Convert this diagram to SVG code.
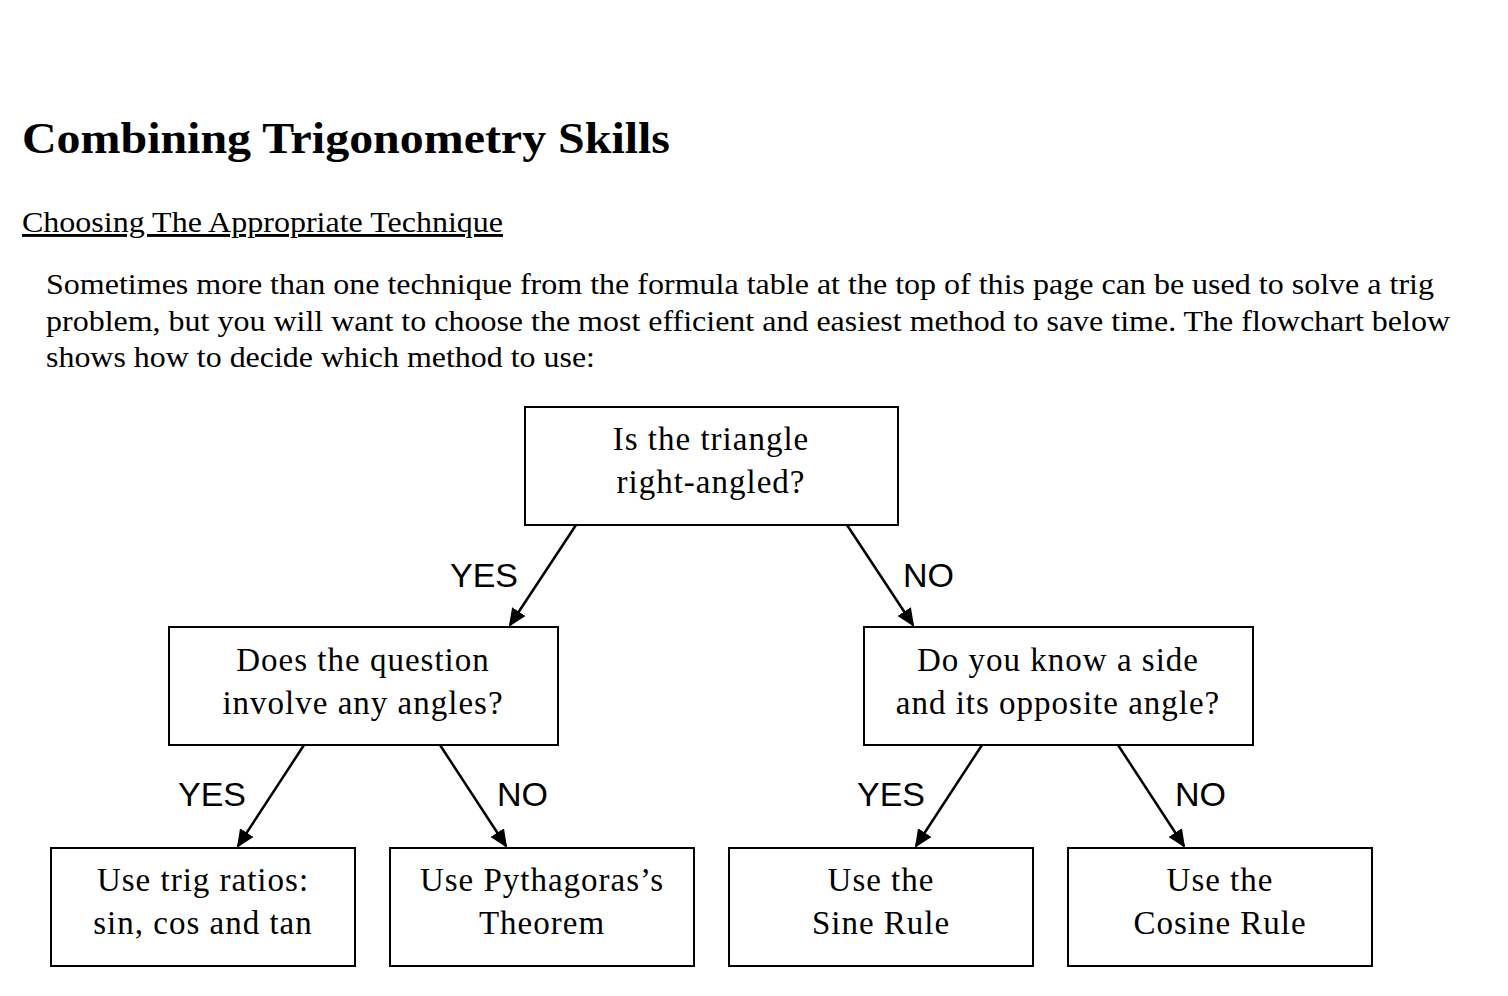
<svg xmlns="http://www.w3.org/2000/svg" width="1508" height="996" viewBox="0 0 1508 996">
<defs>
<marker id="ah" markerWidth="18" markerHeight="18" refX="16" refY="8" orient="auto" markerUnits="userSpaceOnUse" viewBox="0 0 18 16"><path d="M0,0 L18,8 L0,16 z" fill="#000"/></marker>
</defs>
<style>
.s{font-family:"Liberation Serif",serif;fill:#000}
.b{fill:#fff;stroke:#000;stroke-width:2}
.t{font-family:"Liberation Serif",serif;font-size:33px;text-anchor:middle;letter-spacing:1px}
.l{font-family:"Liberation Sans",sans-serif;font-size:34px}
.c line{stroke:#000;stroke-width:2.5}
</style>
<rect width="1508" height="996" fill="#fff"/>
<text class="s" x="22" y="153" font-size="45" font-weight="bold" textLength="648" lengthAdjust="spacingAndGlyphs">Combining Trigonometry Skills</text>
<text class="s" x="22" y="232" font-size="29" text-decoration="underline" textLength="481" lengthAdjust="spacingAndGlyphs">Choosing The Appropriate Technique</text>
<text class="s" font-size="29"><tspan x="46" y="294" textLength="1388" lengthAdjust="spacingAndGlyphs">Sometimes more than one technique from the formula table at the top of this page can be used to solve a trig</tspan><tspan x="46" y="331" textLength="1404" lengthAdjust="spacingAndGlyphs">problem, but you will want to choose the most efficient and easiest method to save time. The flowchart below</tspan><tspan x="46" y="367" textLength="549" lengthAdjust="spacingAndGlyphs">shows how to decide which method to use:</tspan></text>
<g class="c">
<line x1="576" y1="525" x2="510" y2="625" marker-end="url(#ah)"/>
<line x1="847" y1="525" x2="913" y2="625" marker-end="url(#ah)"/>
<line x1="304" y1="745" x2="238" y2="846" marker-end="url(#ah)"/>
<line x1="440" y1="745" x2="506" y2="846" marker-end="url(#ah)"/>
<line x1="982" y1="745" x2="916" y2="846" marker-end="url(#ah)"/>
<line x1="1118" y1="745" x2="1184" y2="846" marker-end="url(#ah)"/>
</g>
<g class="l">
<text x="450" y="587">YES</text><text x="903" y="587">NO</text>
<text x="178" y="806">YES</text><text x="497" y="806">NO</text>
<text x="857" y="806">YES</text><text x="1175" y="806">NO</text>
</g>
<g id="n1"><rect class="b" x="525" y="407" width="373" height="118"/><text class="t" x="711" y="450">Is the triangle</text><text class="t" x="711" y="493">right-angled?</text></g>
<g id="n2"><rect class="b" x="169" y="627" width="389" height="118"/><text class="t" x="363" y="671">Does the question</text><text class="t" x="363" y="714">involve any angles?</text></g>
<g id="n3"><rect class="b" x="864" y="627" width="389" height="118"/><text class="t" x="1058" y="671">Do you know a side</text><text class="t" x="1058" y="714">and its opposite angle?</text></g>
<g id="n4"><rect class="b" x="51" y="848" width="304" height="118"/><text class="t" x="203" y="891">Use trig ratios:</text><text class="t" x="203" y="934">sin, cos and tan</text></g>
<g id="n5"><rect class="b" x="390" y="848" width="304" height="118"/><text class="t" x="542" y="891">Use Pythagoras’s</text><text class="t" x="542" y="934">Theorem</text></g>
<g id="n6"><rect class="b" x="729" y="848" width="304" height="118"/><text class="t" x="881" y="891">Use the</text><text class="t" x="881" y="934">Sine Rule</text></g>
<g id="n7"><rect class="b" x="1068" y="848" width="304" height="118"/><text class="t" x="1220" y="891">Use the</text><text class="t" x="1220" y="934">Cosine Rule</text></g>
</svg>
